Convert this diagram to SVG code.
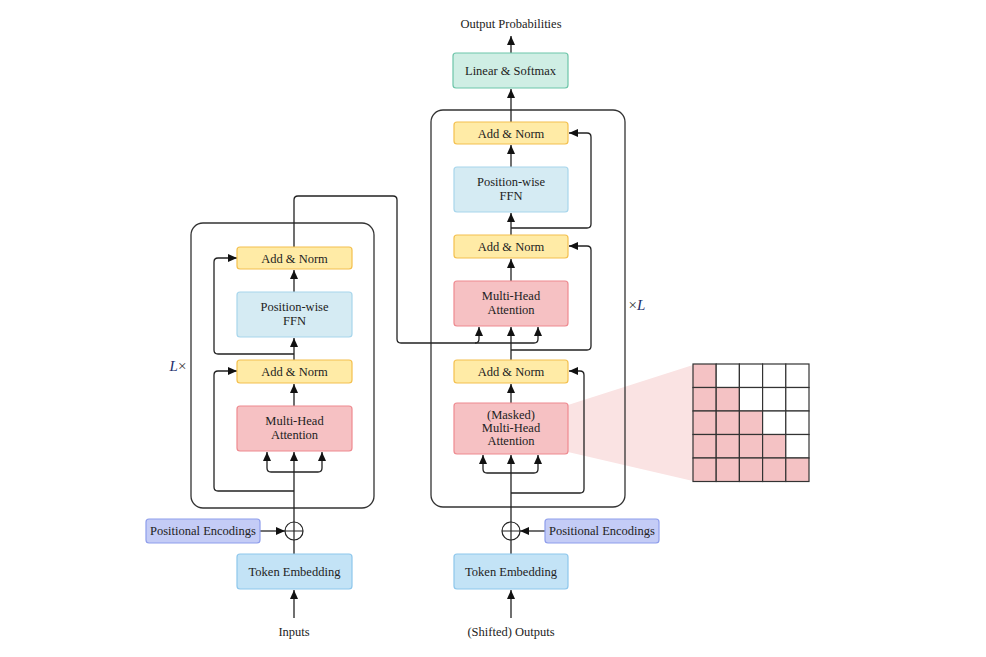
<svg xmlns="http://www.w3.org/2000/svg" width="986" height="657" viewBox="0 0 986 657">
<style>
text{font-family:"Liberation Serif","Times New Roman",serif;font-size:12.5px;fill:#222;text-anchor:middle}
.yel{fill:#FFEBA6;stroke:#F4C04E;stroke-width:1.2}
.pink{fill:#F6C1C3;stroke:#EE8A90;stroke-width:1.2}
.ffn{fill:#D5EBF3;stroke:#A8D6EC;stroke-width:1.2}
.tok{fill:#C3E3F6;stroke:#8EC7EC;stroke-width:1.2}
.pos{fill:#C4CCF6;stroke:#8E9DEB;stroke-width:1.2}
.lin{fill:#CFEEE4;stroke:#6DC5A9;stroke-width:1.2}
.frame{fill:none;stroke:#333;stroke-width:1.3}
.c{fill:none;stroke:#222;stroke-width:1.3}
.a{fill:none;stroke:#222;stroke-width:1.3;marker-end:url(#ah)}
.cell{stroke:#333;stroke-width:1.2}
.big{font-size:15px;fill:#333}
.lbl{font-style:italic;fill:#1e2f6b}
</style>
<defs>
<marker id="ah" markerUnits="userSpaceOnUse" markerWidth="9" markerHeight="8" refX="9" refY="4" orient="auto">
<path d="M0,0 L9,4 L0,8 z" fill="#111"/>
</marker>
</defs>
<rect width="986" height="657" fill="#fff"/>

<!-- mask fan -->
<polygon points="568,405 693,365 693,481 568,452" fill="#FAE3E3"/>

<!-- frames -->
<g id="encoder-frame">
<rect class="frame" x="191" y="223" width="183" height="285" rx="12"/>
<text class="big" x="178" y="371"><tspan class="lbl">L</tspan>×</text>
</g>
<g id="decoder-frame">
<rect class="frame" x="431" y="110" width="194" height="397" rx="12"/>
<text class="big" x="637" y="310">×<tspan class="lbl">L</tspan></text>
</g>

<g id="connectors">
<!-- encoder -->
<path class="a" d="M294 618 V590"/>
<path class="c" d="M294 554 V540"/>
<path class="a" d="M260 531 H285"/>
<path class="a" d="M294 522 V452"/>
<path class="a" d="M294 472 H271 Q267 472 267 468 V452"/>
<path class="a" d="M294 472 H318 Q322 472 322 468 V452"/>
<path class="a" d="M294 491 H218 Q214 491 214 487 V375 Q214 371 218 371 H237"/>
<path class="a" d="M294 406 V384"/>
<path class="a" d="M294 360 V338"/>
<path class="a" d="M294 354 H218 Q214 354 214 350 V262 Q214 258 218 258 H237"/>
<path class="a" d="M294 292 V270"/>
<path class="a" d="M294 247 V200 Q294 196 298 196 H393 Q397 196 397 200 V339 Q397 343 401 343 H534 Q538 343 538 339 V327"/>
<path class="a" d="M475 343 Q479 343 479 339 V327"/>
<!-- decoder -->
<path class="a" d="M511 618 V590"/>
<path class="c" d="M511 554 V540"/>
<path class="a" d="M545 531 H520"/>
<path class="a" d="M511 522 V455"/>
<path class="a" d="M511 473 H487 Q483 473 483 469 V455"/>
<path class="a" d="M511 473 H534 Q538 473 538 469 V455"/>
<path class="a" d="M511 493 H580 Q584 493 584 489 V375 Q584 371 580 371 H569"/>
<path class="a" d="M511 403 V384"/>
<path class="a" d="M511 360 V327"/>
<path class="a" d="M511 350 H587 Q591 350 591 346 V250 Q591 246 587 246 H569"/>
<path class="a" d="M511 281 V259"/>
<path class="a" d="M511 235 V213"/>
<path class="a" d="M511 228 H587 Q591 228 591 224 V137 Q591 133 587 133 H569"/>
<path class="a" d="M511 167 V145"/>
<path class="a" d="M511 122 V89"/>
<path class="a" d="M511 53 V36"/>
</g>

<!-- encoder nodes -->
<g id="enc-addnorm2"><rect class="yel" x="237" y="247" width="115" height="22" rx="3"/><text x="294.5" y="262.5">Add &amp; Norm</text></g>
<g id="enc-ffn"><rect class="ffn" x="237" y="292" width="115" height="45" rx="3"/><text x="294.5" y="311">Position-wise</text><text x="294.5" y="325">FFN</text></g>
<g id="enc-addnorm1"><rect class="yel" x="237" y="360" width="115" height="23" rx="3"/><text x="294.5" y="375.5">Add &amp; Norm</text></g>
<g id="enc-mha"><rect class="pink" x="237" y="406" width="115" height="45" rx="3"/><text x="294.5" y="425">Multi-Head</text><text x="294.5" y="439">Attention</text></g>
<g id="enc-posenc"><rect class="pos" x="146" y="519" width="114" height="24" rx="3"/><text x="203" y="535">Positional Encodings</text></g>
<g id="enc-plus"><circle cx="294" cy="531" r="9" fill="#fff" stroke="#222" stroke-width="1.2"/><path d="M285 531 H303 M294 522 V540" stroke="#222" stroke-width="1.2"/></g>
<g id="enc-tokemb"><rect class="tok" x="237" y="554" width="115" height="35" rx="3"/><text x="294.5" y="575.5">Token Embedding</text></g>
<g id="inputs"><text x="294" y="636">Inputs</text></g>

<!-- decoder nodes -->
<g id="output-probs"><text x="511" y="28">Output Probabilities</text></g>
<g id="linear-softmax"><rect class="lin" x="453" y="53" width="115" height="35" rx="3"/><text x="510.5" y="74.5">Linear &amp; Softmax</text></g>
<g id="dec-addnorm3"><rect class="yel" x="454" y="122" width="114" height="22" rx="3"/><text x="511" y="137.5">Add &amp; Norm</text></g>
<g id="dec-ffn"><rect class="ffn" x="454" y="167" width="114" height="45" rx="3"/><text x="511" y="186">Position-wise</text><text x="511" y="200">FFN</text></g>
<g id="dec-addnorm2"><rect class="yel" x="454" y="235" width="114" height="23" rx="3"/><text x="511" y="250.5">Add &amp; Norm</text></g>
<g id="dec-mha"><rect class="pink" x="454" y="281" width="114" height="45" rx="3"/><text x="511" y="300">Multi-Head</text><text x="511" y="314">Attention</text></g>
<g id="dec-addnorm1"><rect class="yel" x="454" y="360" width="114" height="23" rx="3"/><text x="511" y="375.5">Add &amp; Norm</text></g>
<g id="dec-masked-mha"><rect class="pink" x="454" y="403" width="114" height="51" rx="3"/><text x="511" y="419">(Masked)</text><text x="511" y="432">Multi-Head</text><text x="511" y="445">Attention</text></g>
<g id="dec-plus"><circle cx="511" cy="531" r="9" fill="#fff" stroke="#222" stroke-width="1.2"/><path d="M502 531 H520 M511 522 V540" stroke="#222" stroke-width="1.2"/></g>
<g id="dec-posenc"><rect class="pos" x="545" y="519" width="114" height="24" rx="3"/><text x="602" y="535">Positional Encodings</text></g>
<g id="dec-tokemb"><rect class="tok" x="454" y="554" width="114" height="35" rx="3"/><text x="511" y="575.5">Token Embedding</text></g>
<g id="shifted-outputs"><text x="511" y="636">(Shifted) Outputs</text></g>

<!-- mask matrix -->
<g id="mask-matrix">
<rect class="cell" x="693" y="364" width="23.2" height="23.5" fill="#F4C2C4"/>
<rect class="cell" x="716.2" y="364" width="23.2" height="23.5" fill="#fff"/>
<rect class="cell" x="739.4" y="364" width="23.2" height="23.5" fill="#fff"/>
<rect class="cell" x="762.6" y="364" width="23.2" height="23.5" fill="#fff"/>
<rect class="cell" x="785.8" y="364" width="23.2" height="23.5" fill="#fff"/>
<rect class="cell" x="693" y="387.5" width="23.2" height="23.5" fill="#F4C2C4"/>
<rect class="cell" x="716.2" y="387.5" width="23.2" height="23.5" fill="#F4C2C4"/>
<rect class="cell" x="739.4" y="387.5" width="23.2" height="23.5" fill="#fff"/>
<rect class="cell" x="762.6" y="387.5" width="23.2" height="23.5" fill="#fff"/>
<rect class="cell" x="785.8" y="387.5" width="23.2" height="23.5" fill="#fff"/>
<rect class="cell" x="693" y="411" width="23.2" height="23.5" fill="#F4C2C4"/>
<rect class="cell" x="716.2" y="411" width="23.2" height="23.5" fill="#F4C2C4"/>
<rect class="cell" x="739.4" y="411" width="23.2" height="23.5" fill="#F4C2C4"/>
<rect class="cell" x="762.6" y="411" width="23.2" height="23.5" fill="#fff"/>
<rect class="cell" x="785.8" y="411" width="23.2" height="23.5" fill="#fff"/>
<rect class="cell" x="693" y="434.5" width="23.2" height="23.5" fill="#F4C2C4"/>
<rect class="cell" x="716.2" y="434.5" width="23.2" height="23.5" fill="#F4C2C4"/>
<rect class="cell" x="739.4" y="434.5" width="23.2" height="23.5" fill="#F4C2C4"/>
<rect class="cell" x="762.6" y="434.5" width="23.2" height="23.5" fill="#F4C2C4"/>
<rect class="cell" x="785.8" y="434.5" width="23.2" height="23.5" fill="#fff"/>
<rect class="cell" x="693" y="458" width="23.2" height="23.5" fill="#F4C2C4"/>
<rect class="cell" x="716.2" y="458" width="23.2" height="23.5" fill="#F4C2C4"/>
<rect class="cell" x="739.4" y="458" width="23.2" height="23.5" fill="#F4C2C4"/>
<rect class="cell" x="762.6" y="458" width="23.2" height="23.5" fill="#F4C2C4"/>
<rect class="cell" x="785.8" y="458" width="23.2" height="23.5" fill="#F4C2C4"/>
</g>
</svg>
